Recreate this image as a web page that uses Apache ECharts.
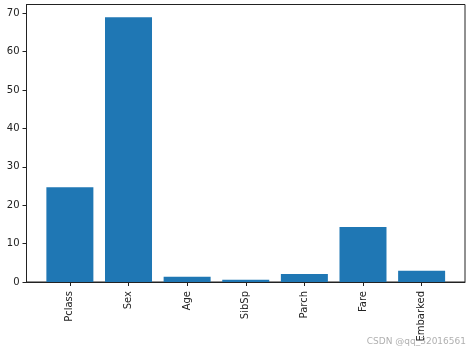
<!DOCTYPE html>
<html>
<head>
<meta charset="utf-8">
<script src="https://cdn.jsdelivr.net/npm/echarts@6/dist/echarts.min.js"></script>
<style>
html,body{margin:0;padding:0;background:#fff;}
#chart{width:474px;height:351px;}
</style>
</head>
<body>
<div id="chart"></div>
<script>
const categories = ['Pclass', 'Sex', 'Age', 'SibSp', 'Parch', 'Fare', 'Embarked'];
const values = [24.7, 69.0, 1.4, 0.6, 2.1, 14.3, 2.9];
const yTicks = [0, 10, 20, 30, 40, 50, 60, 70];
const watermark = 'CSDN @qq_32016561';

const positions = categories.map((c, i) => i);
const chart = echarts.init(document.getElementById('chart'), null, {renderer: 'canvas'});
const font = 'DejaVu Sans';
chart.setOption({
  animation: false,
  backgroundColor: '#fff',
  title: {
    text: watermark,
    right: 3, bottom: 0,
    textStyle: {fontFamily: font, fontSize: 9, color: '#b0b0b0', fontWeight: 'normal'}
  },
  grid: {left: 26.5, right: 9, top: 4.5, bottom: 69, show: true, borderColor: '#222', borderWidth: 1, backgroundColor: 'transparent'},
  xAxis: {
    type: 'value', min: -0.74, max: 6.74,
    splitLine: {show: false},
    axisLine: {show: true, onZero: false, lineStyle: {color: '#222', width: 1}},
    axisTick: {show: true, inside: false, length: 4, customValues: positions, lineStyle: {color: '#222'}},
    axisLabel: {
      customValues: positions, rotate: 90, margin: 9,
      fontFamily: font, fontSize: 10, color: '#222',
      formatter: v => categories[Math.round(v)]
    }
  },
  yAxis: {
    type: 'value', min: 0, max: 72.3,
    splitLine: {show: false},
    axisLine: {show: true, onZero: false, lineStyle: {color: '#222', width: 1}},
    axisTick: {show: true, inside: false, length: 4, customValues: yTicks, lineStyle: {color: '#222'}},
    axisLabel: {customValues: yTicks, margin: 7, fontFamily: font, fontSize: 10, color: '#222'}
  },
  series: [{
    type: 'bar',
    data: values.map((v, i) => [positions[i], v]),
    barWidth: 47,
    itemStyle: {color: '#1f77b4'}
  }]
});
</script>
</body>
</html>
